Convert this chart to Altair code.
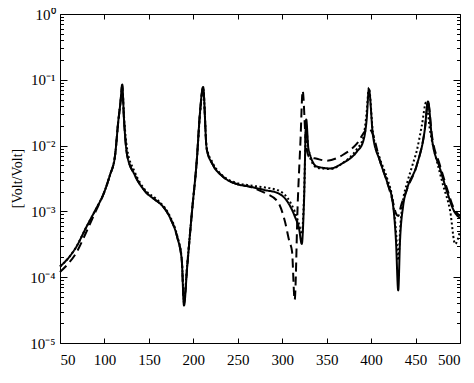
import altair as alt
import pandas as pd

# ---- data ----
x_solid = [50, 60, 67, 80, 89, 100, 106, 112, 115.5, 118, 120, 122, 125.5, 134, 146, 157, 163, 174, 182, 187,
           189.5, 193, 198.5, 204, 207.5, 211, 215, 222, 233, 249, 262, 281, 295, 306, 314, 319, 322, 324.5,
           327, 329.5, 339, 354, 368, 384, 391, 395, 397.5, 402, 410, 418, 424.5, 428, 430.5, 432.5, 436,
           440.5, 451.5, 460.5, 464, 468.5, 477.5, 486.5, 492, 500]
y_solid = [1.45e-4, 2.0e-4, 2.7e-4, 5.9e-4, 1.0e-3, 2.0e-3, 3.5e-3, 7.2e-3, 2.3e-2, 4.5e-2, 8.5e-2, 2.5e-2,
           7.2e-3, 3.6e-3, 2.0e-3, 1.5e-3, 1.3e-3, 7.9e-4, 4.0e-4, 1.8e-4, 3.7e-5, 1.4e-4, 1.0e-3, 6.3e-3,
           3.2e-2, 7.8e-2, 8.9e-3, 5.1e-3, 3.4e-3, 2.6e-3, 2.4e-3, 2.1e-3, 1.9e-3, 1.4e-3, 8.5e-4, 5.4e-4,
           3.2e-4, 1.4e-3, 2.5e-2, 8.9e-3, 4.8e-3, 4.5e-3, 5.4e-3, 8.1e-3, 1.15e-2, 2.5e-2, 7.2e-2, 1.45e-2,
           5.8e-3, 2.8e-3, 1.3e-3, 3.5e-4, 6.3e-5, 3.5e-4, 1.2e-3, 2.2e-3, 5.1e-3, 1.8e-2, 4.7e-2, 1.26e-2,
           4.5e-3, 1.8e-3, 1.1e-3, 7.9e-4]

x_dashed = [50, 60, 67, 80, 89, 100, 106, 112, 115.5, 118, 120, 122, 125.5, 134, 146, 157, 163, 174, 182, 187,
            189.5, 193, 198.5, 204, 207.5, 211, 215, 222, 233, 249, 262, 270, 281, 295, 303, 308, 311, 314,
            317.5, 320.5, 323, 326.5, 330, 339, 350, 368, 384, 395, 398, 401, 410, 418, 424.5, 428, 430.5,
            433.5, 440.5, 451.5, 460.5, 464, 468.5, 477.5, 486.5, 492, 500]
y_dashed = [1.2e-4, 1.65e-4, 2.2e-4, 5.0e-4, 9.3e-4, 2.0e-3, 3.5e-3, 7.2e-3, 2.3e-2, 4.5e-2, 8.3e-2, 2.5e-2,
            7.2e-3, 3.6e-3, 2.0e-3, 1.5e-3, 1.3e-3, 7.9e-4, 4.0e-4, 1.8e-4, 4.0e-5, 1.4e-4, 1.0e-3, 6.3e-3,
            3.2e-2, 7.6e-2, 8.9e-3, 5.1e-3, 3.4e-3, 2.6e-3, 2.4e-3, 2.2e-3, 1.9e-3, 1.4e-3, 7.1e-4, 3.5e-4,
            2.5e-4, 4.5e-5, 1.4e-3, 1.15e-2, 6.8e-2, 1.15e-2, 6.8e-3, 6.3e-3, 5.9e-3, 7.2e-3, 1.07e-2,
            1.74e-2, 1.78e-2, 1.6e-2, 5.8e-3, 2.8e-3, 1.4e-3, 9.3e-4, 8.5e-4, 1.2e-3, 2.2e-3, 5.1e-3,
            1.8e-2, 4.5e-2, 1.4e-2, 5.0e-3, 2.0e-3, 1.2e-3, 8.5e-4]

x_dotted = [50, 60, 67, 80, 89, 100, 106, 112, 115.5, 118, 120, 122, 125.5, 134, 146, 157, 163, 174, 182, 187,
            189.5, 193, 198.5, 204, 207.5, 211, 215, 222, 233, 249, 262, 281, 295, 306, 314, 319, 322, 324.5,
            327, 329.5, 339, 354, 368, 384, 391, 395, 397.5, 402, 410, 418, 424.5, 428, 430.5, 433, 436,
            440.5, 446, 451.5, 457, 462, 466, 474, 481, 489, 494.5, 500]
y_dotted = [1.45e-4, 2.0e-4, 2.7e-4, 5.9e-4, 1.0e-3, 2.0e-3, 3.5e-3, 7.2e-3, 2.3e-2, 4.5e-2, 8.0e-2, 2.8e-2,
            8.9e-3, 4.0e-3, 2.1e-3, 1.6e-3, 1.35e-3, 8.3e-4, 4.2e-4, 1.9e-4, 4.5e-5, 1.5e-4, 1.0e-3, 6.0e-3,
            3.0e-2, 7.4e-2, 9.5e-3, 5.4e-3, 3.5e-3, 2.7e-3, 2.5e-3, 2.3e-3, 2.1e-3, 1.6e-3, 1.0e-3, 6.3e-4,
            4.5e-4, 1.6e-3, 2.0e-2, 7.9e-3, 4.6e-3, 4.4e-3, 5.4e-3, 8.9e-3, 1.3e-2, 3.2e-2, 7.6e-2, 1.6e-2,
            6.3e-3, 3.2e-3, 1.4e-3, 5.0e-4, 1.8e-4, 6.3e-4, 1.5e-3, 2.7e-3, 4.8e-3, 8.5e-3, 2.0e-2, 4.6e-2,
            1.8e-2, 5.8e-3, 2.5e-3, 1.0e-3, 3.2e-4, 5.0e-4]

x_ticks = [50, 100, 150, 200, 250, 300, 350, 400, 450, 500]
y_major = [1e-5, 1e-4, 1e-3, 1e-2, 1e-1, 1e0]
y_minor = [k * d for d in [1e-5, 1e-4, 1e-3, 1e-2, 1e-1] for k in range(2, 10)]
series_names = ["solid", "dashed", "dotted"]

rows = []
for name, xs, ys in [("solid", x_solid, y_solid), ("dashed", x_dashed, y_dashed), ("dotted", x_dotted, y_dotted)]:
    for i, (a, b) in enumerate(zip(xs, ys)):
        rows.append({"f": a, "v": b, "series": name, "i": i})
df = pd.DataFrame(rows)

FONT = "Liberation Serif"
is_major = "abs(log(datum.value)/LN10 - round(log(datum.value)/LN10)) < 0.01"
label_expr = ("(" + is_major + ") ? (round(log(datum.value)/LN10) == 0 ? '10\u2070' : "
              "'10\u207b' + ['0','\u00b9','\u00b2','\u00b3','\u2074','\u2075'][-round(log(datum.value)/LN10)]) : ''")

xscale = alt.Scale(domain=[50, 500], nice=False, zero=False)
yscale = alt.Scale(type="log", domain=[1e-5, 1], nice=False)

ytick_size = {"condition": {"test": is_major, "value": -7}, "value": -3.5}

x_bottom = alt.Axis(values=x_ticks, title=None, tickSize={"expr": "-5"}, labelFont=FONT, labelFontSize=15,
                    labelPadding=14, grid=False, domainColor="black", tickColor="black", labelColor="black")
y_left = alt.Axis(values=y_major + y_minor, title="[Volt/Volt]", titleFont=FONT, titleFontSize=14,
                  titleFontWeight="normal", titleColor="black", titleX=-36, titleY=164,
                  labelExpr=label_expr, tickSize=ytick_size, labelFont=FONT, labelFontSize=15,
                  labelPadding=12, grid=False, domainColor="black", tickColor="black", labelColor="black")

lines = alt.Chart(df).mark_line(color="black", strokeWidth=2, interpolate="monotone").encode(
    x=alt.X("f:Q", scale=xscale, axis=x_bottom),
    y=alt.Y("v:Q", scale=yscale, axis=y_left),
    strokeDash=alt.StrokeDash("series:N", scale=alt.Scale(domain=series_names,
                              range=[[1, 0], [9, 5], [2, 2.5]]), legend=None),
    detail="series:N",
    order="i:Q",
)

x_top = alt.Axis(values=x_ticks, orient="top", labels=False, title=None, tickSize={"expr": "-5"},
                 grid=False, domainColor="black", tickColor="black")
y_right = alt.Axis(values=y_major + y_minor, orient="right", labels=False, title=None, tickSize=ytick_size,
                   grid=False, domainColor="black", tickColor="black")

frame = alt.Chart(df).mark_line(opacity=0).encode(
    x=alt.X("f:Q", scale=xscale, axis=x_top),
    y=alt.Y("v:Q", scale=yscale, axis=y_right),
    detail="series:N",
)

chart = alt.layer(lines, frame).resolve_axis(x="independent", y="independent").properties(
    width=400, height=329,
    autosize=alt.AutoSizeParams(type="none"),
    padding={"left": 52, "top": 6, "right": 6, "bottom": 30},
).configure_view(stroke="black", strokeWidth=1).configure(background="white")

chart.save("out.html", embed_options={"renderer": "svg", "actions": False})
